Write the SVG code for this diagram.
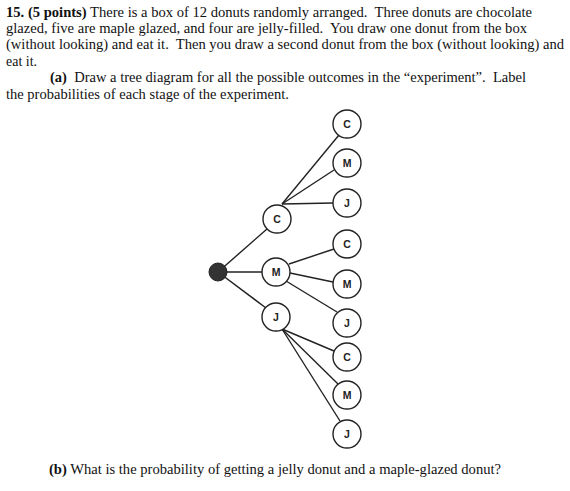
<svg xmlns="http://www.w3.org/2000/svg" width="570" height="491" viewBox="0 0 570 491">
<style>
.t{font-family:"Liberation Serif","Times New Roman",serif;font-size:13.8px;fill:#111;white-space:pre}
.b{font-weight:bold}
.n{fill:#fff;stroke:#222;stroke-width:1.4}
.l{font-family:"Liberation Sans",Arial,sans-serif;font-size:10.5px;font-weight:bold;fill:#222;text-anchor:middle}
.e{stroke:#222;stroke-width:1.4;fill:none}
</style>
<rect width="570" height="491" fill="#fff"/>
<g id="text" xml:space="preserve">
<text class="t" x="6" y="16.5" textLength="526" lengthAdjust="spacingAndGlyphs"><tspan class="b">15. (5 points)</tspan> There is a box of 12 donuts randomly arranged.  Three donuts are chocolate</text>
<text class="t" x="6" y="32.8" textLength="521" lengthAdjust="spacingAndGlyphs">glazed, five are maple glazed, and four are jelly-filled.  You draw one donut from the box</text>
<text class="t" x="6" y="49.3" textLength="558" lengthAdjust="spacingAndGlyphs">(without looking) and eat it.  Then you draw a second donut from the box (without looking) and</text>
<text class="t" x="6" y="65.5" textLength="31" lengthAdjust="spacingAndGlyphs">eat it.</text>
<text class="t" x="50" y="82" textLength="476" lengthAdjust="spacingAndGlyphs"><tspan class="b">(a)</tspan>  Draw a tree diagram for all the possible outcomes in the “experiment”.  Label</text>
<text class="t" x="6" y="98.5" textLength="283" lengthAdjust="spacingAndGlyphs">the probabilities of each stage of the experiment.</text>
<text class="t" x="49" y="473.5" textLength="452" lengthAdjust="spacingAndGlyphs"><tspan class="b">(b)</tspan> What is the probability of getting a jelly donut and a maple-glazed donut?</text>
</g>
<g id="connectors">
<line class="e" x1="218" y1="272" x2="267" y2="229"/>
<line class="e" x1="218" y1="272" x2="262" y2="272"/>
<line class="e" x1="218" y1="272" x2="266" y2="308"/>
<line class="e" x1="282" y1="204" x2="339" y2="135"/>
<line class="e" x1="282" y1="204" x2="334" y2="170"/>
<line class="e" x1="282" y1="204" x2="333" y2="203"/>
<line class="e" x1="289" y1="264" x2="334" y2="249"/>
<line class="e" x1="290" y1="273" x2="333" y2="282"/>
<line class="e" x1="286" y1="281" x2="337" y2="312"/>
<line class="e" x1="282" y1="329" x2="334" y2="351"/>
<line class="e" x1="282" y1="329" x2="338" y2="384"/>
<line class="e" x1="282" y1="329" x2="340" y2="421"/>
</g>
<g id="root"><circle cx="218" cy="272" r="9" fill="#333" stroke="#222" stroke-width="1"/></g>
<g id="n1C"><circle class="n" cx="277" cy="219" r="14"/><text class="l" x="277" y="223">C</text></g>
<g id="n1M"><circle class="n" cx="276" cy="272" r="14"/><text class="l" x="276" y="276">M</text></g>
<g id="n1J"><circle class="n" cx="276" cy="317" r="14"/><text class="l" x="276" y="321">J</text></g>
<g id="n2CC"><circle class="n" cx="347" cy="124" r="14"/><text class="l" x="347" y="128">C</text></g>
<g id="n2CM"><circle class="n" cx="347" cy="163" r="14"/><text class="l" x="347" y="167">M</text></g>
<g id="n2CJ"><circle class="n" cx="347" cy="203" r="14"/><text class="l" x="347" y="207">J</text></g>
<g id="n2MC"><circle class="n" cx="347" cy="244" r="14"/><text class="l" x="347" y="248">C</text></g>
<g id="n2MM"><circle class="n" cx="347" cy="284" r="14"/><text class="l" x="347" y="288">M</text></g>
<g id="n2MJ"><circle class="n" cx="347" cy="323" r="14"/><text class="l" x="347" y="327">J</text></g>
<g id="n2JC"><circle class="n" cx="347" cy="357" r="14"/><text class="l" x="347" y="361">C</text></g>
<g id="n2JM"><circle class="n" cx="347" cy="395" r="14"/><text class="l" x="347" y="399">M</text></g>
<g id="n2JJ"><circle class="n" cx="347" cy="434" r="14"/><text class="l" x="347" y="438">J</text></g>
</svg>
